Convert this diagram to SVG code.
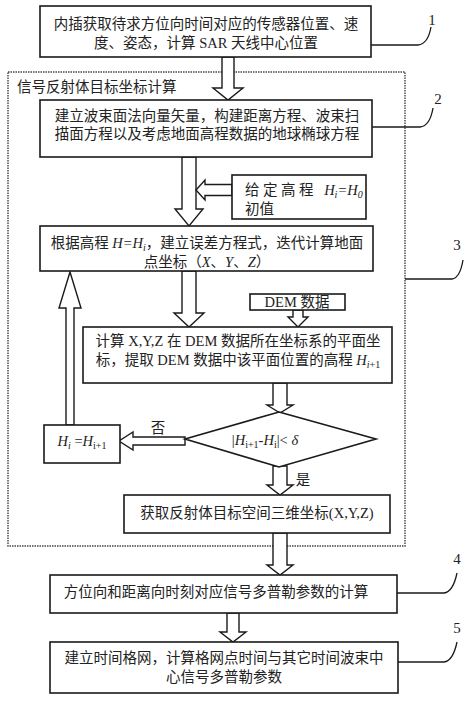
<svg xmlns="http://www.w3.org/2000/svg" width="474" height="705" viewBox="0 0 474 705">
<style>
.box{fill:#fff;stroke:#1a1a1a;stroke-width:1.6}
.arr{fill:#fff;stroke:#1a1a1a;stroke-width:1.4;stroke-linejoin:miter}
.lead{fill:none;stroke:#1a1a1a;stroke-width:1.3}
.t{font-family:"Liberation Serif","Noto Sans CJK SC",serif;font-size:14.5px;fill:#222}
.c{text-anchor:middle}
.i{font-style:italic}
.s{font-size:10px}
.n{font-family:"Liberation Serif",serif;font-size:15px;fill:#222;text-anchor:middle}
</style>
<rect width="474" height="705" fill="#fff"/>
<g id="group3">
<rect x="8" y="72" width="397" height="474" fill="none" stroke="#444" stroke-width="1.4" stroke-dasharray="1.5,1"/>
<text class="t" x="17" y="92">信号反射体目标坐标计算</text>
</g>
<g id="connectors">
<polygon class="arr" points="222,57 234,57 234,88 243,88 228,100 213,88 222,88"/>
<polygon class="arr" points="182,157 196,157 196,209 203,209 189,226 175,209 182,209"/>
<polygon class="arr" points="232,184.5 205,184.5 205,180 196,190 205,200 205,195.5 232,195.5"/>
<polygon class="arr" points="182,271 196,271 196,313 204,313 189,327 174,313 182,313"/>
<polygon class="arr" points="293,310 303,310 303,317 308,317 298,327 288,317 293,317"/>
<polygon class="arr" points="273,383 287,383 287,405 293,405 280,413 267,405 273,405"/>
<polygon class="arr" points="185,437 133,437 133,432 119,441 133,450 133,445 185,445"/>
<polygon class="arr" points="66,425 74,425 74,308 81,308 70,272 59,308 66,308"/>
<polygon class="arr" points="273,466 287,466 287,485 293,485 280,495 267,485 273,485"/>
<polygon class="arr" points="273,533 287,533 287,565 293,565 280,575 267,565 273,565"/>
<polygon class="arr" points="227,613 239,613 239,632 246,632 233,642 220,632 227,632"/>
<path class="lead" d="M371,45 H418 Q428,44 431,27"/>
<path class="lead" d="M372,127 H420 Q430,126 433,108"/>
<path class="lead" d="M405,279 H452 Q460,278 463,260"/>
<path class="lead" d="M397,593 H444 Q453,592 457,573"/>
<path class="lead" d="M398,662 H444 Q453,661 457,642"/>
</g>
<g id="node1">
<rect class="box" x="40" y="6" width="331" height="51"/>
<text class="t c" x="206" y="29">内插获取待求方位向时间对应的传感器位置、速</text>
<text class="t c" x="206" y="48">度、姿态，计算 SAR 天线中心位置</text>
<text class="n" x="432" y="25">1</text>
</g>
<g id="node2">
<rect class="box" x="40" y="100" width="332" height="57"/>
<text class="t c" x="207" y="121">建立波束面法向量矢量，构建距离方程、波束扫</text>
<text class="t c" x="207" y="139">描面方程以及考虑地面高程数据的地球椭球方程</text>
<text class="n" x="438" y="104">2</text>
</g>
<g id="node-init">
<rect class="box" x="232" y="175" width="134" height="44"/>
<text class="t" x="245" y="195" letter-spacing="3.5">给定高程 <tspan class="i" letter-spacing="0">H</tspan><tspan class="i s" dy="3" letter-spacing="0">i</tspan><tspan class="i" dy="-3" letter-spacing="0">=H</tspan><tspan class="i s" dy="3" letter-spacing="0">0</tspan></text>
<text class="t" x="245" y="214">初值</text>
</g>
<g id="node3">
<rect class="box" x="40" y="226" width="333" height="45"/>
<text class="t c" x="207" y="248">根据高程 <tspan class="i">H=H</tspan><tspan class="i s" dy="3">i</tspan><tspan dy="-3">，建立误差方程式，迭代计算地面</tspan></text>
<text class="t c" x="207" y="267">点坐标（<tspan class="i">X</tspan>、<tspan class="i">Y</tspan>、<tspan class="i">Z</tspan>）</text>
<text class="n" x="457" y="250">3</text>
</g>
<g id="node-dem">
<rect class="box" x="250" y="294" width="95" height="16"/>
<text class="t c" x="297" y="307">DEM 数据</text>
</g>
<g id="node4">
<rect class="box" x="83" y="327" width="309" height="56"/>
<text class="t c" x="238" y="346">计算 X,Y,Z 在 DEM 数据所在坐标系的平面坐</text>
<text class="t c" x="238" y="365">标，提取 DEM 数据中该平面位置的高程 <tspan class="i">H</tspan><tspan class="s" dy="3"><tspan class="i">i</tspan>+1</tspan></text>
</g>
<g id="node-decision">
<polygon class="box" points="279,412 376,439 279,467 185,439"/>
<text class="t c" x="265" y="445">|<tspan class="i">H</tspan><tspan class="s" dy="3">i+1</tspan><tspan dy="-3">-</tspan><tspan class="i">H</tspan><tspan class="s" dy="3">i</tspan><tspan dy="-3">|&lt; </tspan><tspan class="i">δ</tspan></text>
<text class="t c" x="158" y="433">否</text>
<text class="t c" x="303" y="485">是</text>
</g>
<g id="node-update">
<rect class="box" x="44" y="425" width="76" height="38"/>
<text class="t c" x="82" y="446"><tspan class="i">H</tspan><tspan class="i s" dy="3">i</tspan><tspan dy="-3"> =</tspan><tspan class="i">H</tspan><tspan class="s" dy="3">i+1</tspan></text>
</g>
<g id="node5">
<rect class="box" x="124" y="495" width="266" height="38"/>
<text class="t c" x="257" y="518">获取反射体目标空间三维坐标(X,Y,Z)</text>
</g>
<g id="node6">
<rect class="box" x="50" y="575" width="347" height="38"/>
<text class="t c" x="216" y="597">方位向和距离向时刻对应信号多普勒参数的计算</text>
<text class="n" x="457" y="564">4</text>
</g>
<g id="node7">
<rect class="box" x="50" y="642" width="348" height="51"/>
<text class="t c" x="224" y="663">建立时间格网，计算格网点时间与其它时间波束中</text>
<text class="t c" x="224" y="682">心信号多普勒参数</text>
<text class="n" x="457" y="633">5</text>
</g>
</svg>
